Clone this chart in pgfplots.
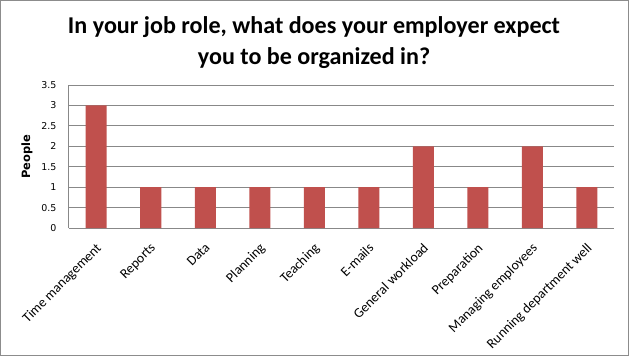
\documentclass[border=0pt]{standalone}
\usepackage{fontspec}
\setmainfont{Carlito}
\newfontfamily\vera{DejaVu Sans}
\usepackage{pgfplots}
\pgfplotsset{compat=1.18}
\definecolor{barred}{HTML}{C0504D}
\definecolor{gridgray}{HTML}{888888}
\definecolor{framegray}{HTML}{8C8C8C}
\begin{document}
\begin{tikzpicture}
\path[use as bounding box] (-69bp,-128bp) rectangle (560bp,228bp);
\draw[framegray, line width=1bp] (-68.5bp,-127.5bp) rectangle (559.5bp,227.5bp);
\node[anchor=base, inner sep=0pt, font=\fontsize{24.2}{28}\selectfont\bfseries] at (245bp,194bp) {In your job role, what does your employer expect};
\node[anchor=base, inner sep=0pt, font=\fontsize{24.2}{28}\selectfont\bfseries] at (245bp,163bp) {you to be organized in?};
\begin{axis}[
  at={(0,0)}, anchor=south west,
  scale only axis, width=545bp, height=143bp,
  xmin=-0.5, xmax=9.5, ymin=0, ymax=3.5,
  ytick={0,0.5,1,1.5,2,2.5,3,3.5},
  xtick={0,1,2,3,4,5,6,7,8,9},
  xticklabels={Time management,Reports,Data,Planning,Teaching,E-mails,General workload,Preparation,Managing employees,Running department well},
  major tick length=0pt,
  axis x line*=bottom, axis y line*=left,
  axis line style={gridgray, line width=1bp},
  ymajorgrids, grid style={gridgray, line width=1bp},
  /pgf/number format/assume math mode=true,
  yticklabel style={font=\vera\fontsize{9.5}{11}\selectfont, xshift=-9bp},
  xticklabel style={font=\fontsize{13.8}{15}\selectfont, rotate=45, anchor=north east, inner sep=0pt, xshift=-10.6bp, yshift=-9.2bp},
  ylabel={People},
  ylabel style={font=\vera\bfseries\fontsize{11.5}{13}\selectfont, at={(axis description cs:-0.0771,0.5)}, anchor=center, rotate=0},
  ybar, bar width=21bp,
  clip=false,
]
\addplot[fill=barred, draw=none] coordinates {(0,3) (1,1) (2,1) (3,1) (4,1) (5,1) (6,2) (7,1) (8,2) (9,1)};
\end{axis}
\end{tikzpicture}
\end{document}
